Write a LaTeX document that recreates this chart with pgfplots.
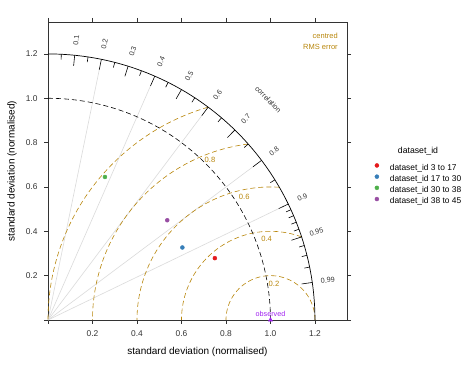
\documentclass[border=0pt]{standalone}
\usepackage{pgfplots}
\pgfplotsset{compat=1.18}
\usepackage{fontspec}
\setmainfont{Liberation Sans}
\definecolor{axgray}{HTML}{333333}
\definecolor{rmscol}{HTML}{B8860B}
\definecolor{c1}{HTML}{E41A1C}
\definecolor{c2}{HTML}{377EB8}
\definecolor{c3}{HTML}{4DAF4A}
\definecolor{c4}{HTML}{984EA3}
\definecolor{obscol}{HTML}{A020F0}
\definecolor{corrgrey}{HTML}{DADADA}
\begin{document}
\begin{tikzpicture}
\begin{axis}[
  scale only axis, width=299pt, height=298pt,
  at={(48pt,49pt)}, anchor=south west,
  xmin=0, xmax=1.344, ymin=0, ymax=1.344,
  clip=false,
  axis line style={axgray, line width=0.6pt},
  tick style={axgray, line width=0.6pt},
  tick align=outside, major tick length=4pt,
  xtick={0,0.2,0.4,0.6,0.8,1.0,1.2},
  ytick={0,0.2,0.4,0.6,0.8,1.0,1.2},
  xticklabels={,0.2,0.4,0.6,0.8,1.0,1.2},
  yticklabels={,0.2,0.4,0.6,0.8,1.0,1.2},
  /pgf/number format/assume math mode=true,
  ticklabel style={font=\fontsize{8.4}{10}\selectfont, text=axgray},
  xticklabel style={yshift=-3pt},
  yticklabel style={xshift=-3pt},
  xlabel={standard deviation (normalised)},
  ylabel={standard deviation (normalised)},
  label style={font=\fontsize{10.6}{12}\selectfont, text=axgray},
  every axis x label/.style={at={(axis description cs:0.5,-0.107)}, anchor=center},
  every axis y label/.style={at={(axis description cs:-0.12,0.5)}, rotate=90, anchor=center},
  legend style={draw=none, fill=none, inner sep=0pt, at={(rel axis cs:1.0926,0.526)}, anchor=north west,
    font=\fontsize{8.4}{10}\selectfont, row sep=2.8pt, column sep=11pt,
    nodes={inner sep=0pt, text height=6.2pt, text depth=1.8pt, text=black}},
  legend cell align=left,
  legend image code/.code={\draw[#1] plot coordinates {(0pt,2.4pt)};},
]
% correlation grid lines
\pgfplotsinvokeforeach{0.2,0.4,0.6,0.8,0.9}{
  \draw[corrgrey, line width=0.6pt] (axis cs:0,0) -- (axis cs:{1.152*#1},{1.152*sqrt(1-#1*#1)});
}
% centred RMS error arcs
\addplot[rmscol, line width=0.6pt, dash pattern=on 5pt off 3pt, domain=0:180, samples=90, variable=\t, forget plot] ({1+0.2*cos(\t)},{0.2*sin(\t)});
\addplot[rmscol, line width=0.6pt, dash pattern=on 5pt off 3pt, domain=69.5:180, samples=90, variable=\t, forget plot] ({1+0.4*cos(\t)},{0.4*sin(\t)});
\addplot[rmscol, line width=0.6pt, dash pattern=on 5pt off 3pt, domain=86.2:180, samples=90, variable=\t, forget plot] ({1+0.6*cos(\t)},{0.6*sin(\t)});
\addplot[rmscol, line width=0.6pt, dash pattern=on 5pt off 3pt, domain=97.2:180, samples=90, variable=\t, forget plot] ({1+0.8*cos(\t)},{0.8*sin(\t)});
\addplot[rmscol, line width=0.6pt, dash pattern=on 5pt off 3pt, domain=106.3:180, samples=90, variable=\t, forget plot] ({1+1.0*cos(\t)},{1.0*sin(\t)});
% observed sd arc and outer arc
\addplot[black, line width=0.6pt, dash pattern=on 5pt off 3pt, domain=0:90, samples=90, variable=\t, forget plot] ({cos(\t)},{sin(\t)});
\addplot[black, line width=0.7pt, domain=0:90, samples=120, variable=\t, forget plot] ({1.2*cos(\t)},{1.2*sin(\t)});
% correlation ticks
\pgfplotsinvokeforeach{0.1,0.2,0.3,0.4,0.5,0.6,0.7,0.8,0.9,0.95,0.99}{
  \draw[black, line width=0.6pt] (axis cs:{1.2*#1},{1.2*sqrt(1-#1*#1)}) -- (axis cs:{1.152*#1},{1.152*sqrt(1-#1*#1)});
  \node[rotate={acos(#1)}, font=\fontsize{7.2}{8}\selectfont, text=axgray, inner sep=0pt] at (axis cs:{1.27*#1},{1.27*sqrt(1-#1*#1)}) {#1};
}
\pgfplotsinvokeforeach{0.05,0.15,0.25,0.35,0.45,0.55,0.65,0.75,0.85,0.91,0.92,0.93,0.94,0.96,0.97,0.98}{
  \draw[black, line width=0.6pt] (axis cs:{1.2*#1},{1.2*sqrt(1-#1*#1)}) -- (axis cs:{1.176*#1},{1.176*sqrt(1-#1*#1)});
}
\node[rotate=-45, font=\fontsize{7.2}{8}\selectfont, text=axgray, inner sep=0pt] at (axis cs:0.99,0.995) {correlation};
% RMS labels
\node[font=\fontsize{7.6}{8}\selectfont, text=rmscol, inner sep=0pt] at (axis cs:0.728,0.72) {0.8};
\node[font=\fontsize{7.6}{8}\selectfont, text=rmscol, inner sep=0pt] at (axis cs:0.882,0.555) {0.6};
\node[font=\fontsize{7.6}{8}\selectfont, text=rmscol, inner sep=0pt] at (axis cs:0.983,0.368) {0.4};
\node[font=\fontsize{7.6}{8}\selectfont, text=rmscol, inner sep=0pt] at (axis cs:1.016,0.165) {0.2};
\node[font=\fontsize{7.5}{8}\selectfont, text=rmscol, anchor=east, inner sep=0pt] at (axis cs:1.303,1.281) {centred};
\node[font=\fontsize{7.5}{8}\selectfont, text=rmscol, anchor=east, inner sep=0pt] at (axis cs:1.303,1.232) {RMS error};
% observed
\addplot[only marks, mark=triangle*, mark size=2.4pt, obscol, mark options={fill=obscol, draw=obscol}, forget plot] coordinates {(1,0)};
\node[font=\fontsize{7.2}{8}\selectfont, text=obscol, inner sep=0pt] at (axis cs:1.0,0.026) {observed};
% data
\addplot[only marks, mark=*, mark size=2pt, mark options={fill=c1, draw=c1}] coordinates {(0.750,0.279)};
\addlegendentry{dataset\_id 3 to 17}
\addplot[only marks, mark=*, mark size=2pt, mark options={fill=c2, draw=c2}] coordinates {(0.604,0.327)};
\addlegendentry{dataset\_id 17 to 30}
\addplot[only marks, mark=*, mark size=2pt, mark options={fill=c3, draw=c3}] coordinates {(0.256,0.645)};
\addlegendentry{dataset\_id 30 to 38}
\addplot[only marks, mark=*, mark size=2pt, mark options={fill=c4, draw=c4}] coordinates {(0.536,0.450)};
\addlegendentry{dataset\_id 38 to 45}
\node[font=\fontsize{8.7}{10}\selectfont, text=black] at (rel axis cs:1.2375,0.567) {dataset\_id};
\end{axis}
\pgfresetboundingbox
\path[use as bounding box] (0,0) rectangle (474pt,369pt);
\end{tikzpicture}
\end{document}
